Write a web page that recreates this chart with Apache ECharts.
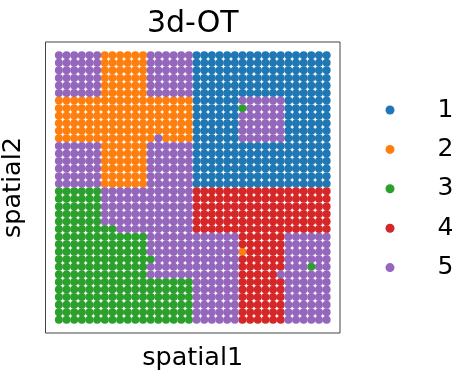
<!DOCTYPE html>
<html>
<head>
<meta charset="utf-8">
<script src="https://cdn.jsdelivr.net/npm/echarts@6/dist/echarts.min.js"></script>
<style>html,body{margin:0;padding:0;background:#fff}#c{width:474px;height:379px}</style>
</head>
<body>
<div id="c"></div>
<script>
// Cluster labels per grid cell, row 0 = top, column 0 = left
const gridLabels = [
  "555555222222555555111111111111111111",
  "555555222222555555111111111111111111",
  "555555222222555555111111111111111111",
  "555555222222555555111111111111111111",
  "555555222222555555111111111111111111",
  "555555222222555555111111111111111111",
  "222222222222222222111111555555111111",
  "222222222222222222111111355555111111",
  "222222222222222222111111555555111111",
  "222222222222222222111111555555111111",
  "222222222222222222111111555555111111",
  "222222222222252222111111555555111111",
  "555555222222555555111111111111111111",
  "555555222222555555111111111111111111",
  "555555222222555555111111111111111111",
  "555555222222555555111111111111111111",
  "555555222222555555111111111111111111",
  "555555222222555555111111111111111111",
  "333333555555555555444444444444444444",
  "333333555555555555444444444444444444",
  "333333555555555555444444444444444444",
  "333333555555555555444444444444444444",
  "333333555555555555444444444444444444",
  "333333335555555555444444444444444444",
  "333333333333555555555555444444555555",
  "333333333333555555555555444444555555",
  "333333333333555555555555244444555555",
  "333333333333355555555555444444555555",
  "333333333333555555555555444444555355",
  "333333333333555555555555444445555555",
  "333333333333333333555555444444555555",
  "333333333333333333555555444444555555",
  "333333333333333333555555444444555555",
  "333333333333333333555555444444555555",
  "333333333333333333555555444444555555",
  "333333333333333333555555444444555555"
];
const clusters = ["1", "2", "3", "4", "5"];
const colors = ["#1f77b4", "#ff7f0e", "#2ca02c", "#d62728", "#9467bd"];
const titleText = "3d-OT";
const xName = "spatial1";
const yName = "spatial2";

gridLabels.forEach((r, i) => { if (r.length !== 36) throw new Error("row " + i + " length " + r.length); });

const seriesData = clusters.map(() => []);
gridLabels.forEach((row, r) => {
  for (let c = 0; c < row.length; c++) {
    const k = clusters.indexOf(row[c]);
    seriesData[k].push([c, r]);
  }
});

const chart = echarts.init(document.getElementById('c'), null, {renderer: 'canvas'});
const FONT = 'DejaVu Sans';
chart.setOption({
  animation: false,
  title: {
    text: titleText, left: 192.75, top: 9, padding: 0, textAlign: 'center',
    textStyle: {fontFamily: FONT, fontSize: 30, fontWeight: 'normal', color: '#000'}
  },
  legend: {
    orient: 'vertical', left: 385.5, top: 97.5, padding: 0,
    itemWidth: 9, itemHeight: 9, itemGap: 14.4, icon: 'circle',
    data: clusters,
    textStyle: {fontFamily: FONT, fontSize: 25, color: '#000', lineHeight: 25, padding: [0, 0, 0, 38]}
  },
  grid: {left: 45.5, right: 134, top: 42, bottom: 46, show: true, borderColor: '#444', borderWidth: 1,
         containLabel: false, outerBoundsMode: 'none'},
  xAxis: {
    type: 'value', min: -1.75, max: 36.75,
    name: xName, nameLocation: 'middle', nameGap: 12,
    nameTextStyle: {fontFamily: FONT, fontSize: 25.5, color: '#000'},
    axisLine: {show: false}, axisTick: {show: false}, axisLabel: {show: false}, splitLine: {show: false}
  },
  yAxis: {
    type: 'value', min: -1.75, max: 36.75, inverse: true,
    name: yName, nameLocation: 'middle', nameGap: 19,
    nameTextStyle: {fontFamily: FONT, fontSize: 25.5, color: '#000'},
    axisLine: {show: false}, axisTick: {show: false}, axisLabel: {show: false}, splitLine: {show: false}
  },
  series: clusters.map((name, k) => ({
    type: 'scatter', name: name, data: seriesData[k],
    symbol: 'circle', symbolSize: 8,
    itemStyle: {color: colors[k], opacity: 1},
    emphasis: {disabled: true}
  }))
});
</script>
</body>
</html>
